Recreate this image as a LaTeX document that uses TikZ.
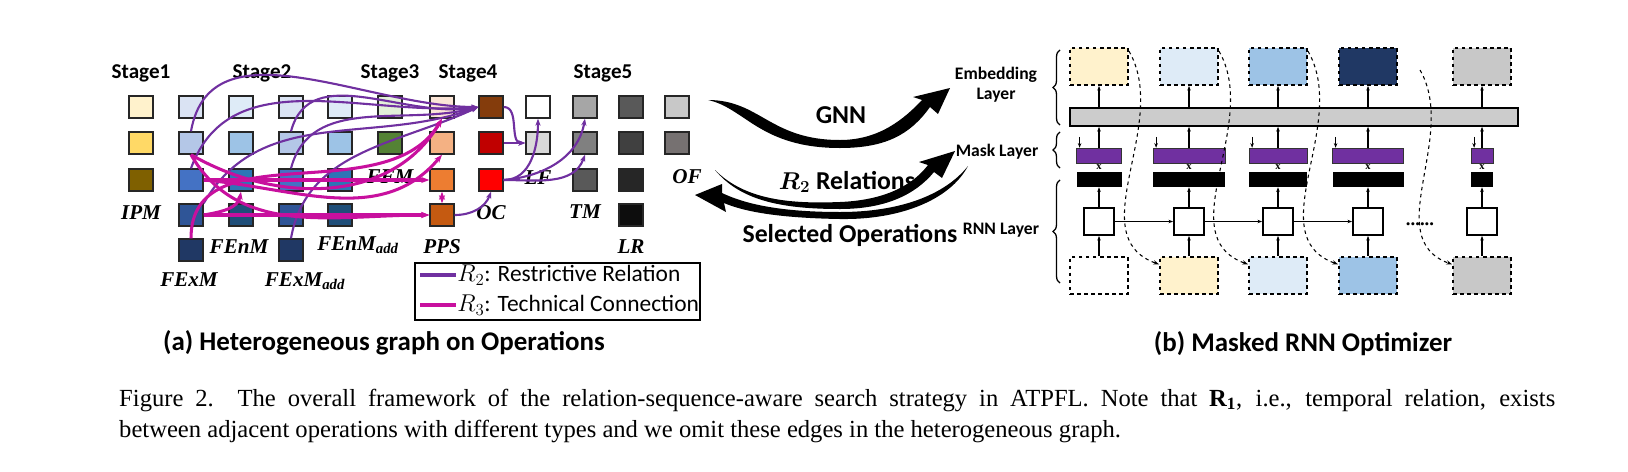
\documentclass[tikz,border=0pt]{standalone}
\usepackage{amsmath}
\usepackage{fontspec}
\setmainfont{Liberation Serif}
\newfontfamily\calib{Carlito}
\usetikzlibrary{arrows.meta,decorations.pathreplacing}
\definecolor{pur}{HTML}{7030A0}
\definecolor{mag}{HTML}{C8109E}
\begin{document}
\begin{tikzpicture}[x=0.03cm,y=-0.03cm,
  sq/.style={draw=black!85,line width=1.2pt,minimum width=0.72cm,minimum height=0.66cm,inner sep=0pt},
  stage/.style={font=\calib\bfseries\fontsize{18}{18}\selectfont},
  op/.style={font=\bfseries\itshape\fontsize{18}{18}\selectfont},
  rr/.style={pur,line width=1.8pt,-{Stealth[length=6pt]}},
  tc/.style={mag,line width=2.6pt,-{Stealth[length=7pt]}},
  emb/.style={draw,dashed,line width=1.6pt,minimum width=1.74cm,minimum height=1.11cm,inner sep=0pt},
  up/.style={-{Stealth[length=4pt]},line width=0.9pt},
  lab/.style={font=\calib\bfseries\fontsize{15}{17}\selectfont,align=center},
  big/.style={font=\calib\bfseries\fontsize{22}{22}\selectfont}]
\useasboundingbox (0,0) rectangle (1628,471);
% ---------- grid of operations
\foreach \c/\x/\cols in {
 1/141/{FFF2CC,FFD966,7F6000},
 2/191/{DAE3F3,B4C7E7,4472C4,2F5597,203864},
 3/241/{DEEBF7,9DC3E6,2E75B6,1F4E79},
 4/291/{DAE3F3,B4C7E7,4472C4,2F5597,203864},
 5/340/{DEEBF7,9DC3E6,2E75B6,1F4E79},
 6/390/{E2F0D9,548235},
 7/442/{FBE5D6,F4B183,ED7D31,C55A11},
 8/491/{843C0C,C00000,FF0000},
 9/538/{FFFFFF,D9D9D9},
 10/585/{A6A6A6,808080,595959},
 11/631/{595959,404040,262626,0D0D0D},
 12/677/{C8C8C8,767171}}{
  \foreach \col [count=\r] in \cols {
    \definecolor{tmp}{HTML}{\col}
    \pgfmathsetmacro{\y}{{107,143,180,215,250}[\r-1]}
    \node[sq,fill=tmp] (c\c r\r) at (\x,\y) {};
  }
}
\foreach \t/\x in {Stage1/141,Stage2/262,Stage3/390,Stage4/468,Stage5/603}
  \node[stage] (s\t) at (\x,73) {\t};
\node[op] (ipm) at (141,213) {IPM};
\node[op] (fexm) at (189,280) {FExM};
\node[op] (fenm) at (239,247) {FEnM};
\node[op] (fexma) at (305,281) {FExM\textsubscript{add}};
\node[op] (fenma) at (358,245) {FEnM\textsubscript{add}};
\node[op] (ffm) at (390,177) {FFM};
\node[op] (pps) at (442,247) {PPS};
\node[op] (oc) at (491,213) {OC};
\node[op] (lf) at (538,178) {LF};
\node[op] (tm) at (585,212) {TM};
\node[op] (lr) at (631,247) {LR};
\node[op] (of) at (687,177) {OF};
% ---------- R2 restrictive relations
\draw[rr] (c2r2.north) to[out=80,in=180] (c8r1.west);
\draw[rr] (c2r3.north) to[out=70,in=185] (c8r1.west);
\draw[rr] (c4r2.north) to[out=75,in=190] (c8r1.west);
\draw[rr] (c4r3.north) to[out=75,in=195] (c8r1.west);
\draw[rr] (c2r4.north east) to[out=60,in=200] (c8r1.west);
\draw[rr] (c4r5.north) to[out=80,in=205] (c8r1.west);
\draw[rr] (c8r1.east) to[out=0,in=180] (c9r2.west);
\draw[rr] (c8r2.east) -- (c9r2.west);
\draw[rr] (c8r3.east) to[out=0,in=-90] (c9r1.south);
\draw[rr] (c8r3.east) to[out=5,in=-100] (c10r1.south);
\draw[rr] (c8r3.east) to[out=0,in=-110] (c10r2.south);
\draw[rr] (c7r4.east) to[out=0,in=-110] (c8r3.south);
% ---------- R3 technical connections
\draw[tc] (c2r5.north) to[out=90,in=-120] (c7r1.south);
\draw[tc] (c2r3.east) to[out=-5,in=-130] (c7r2.south);
\draw[tc] (c2r3.east) -- (c7r3.west);
\draw[tc] (c2r2.south) to[out=-60,in=180] (c7r4.west);
\draw[tc] (c2r4.east) -- (c7r4.west);
\draw[tc] (c2r4.east) to[out=10,in=-100] (c3r3.south);
\draw[tc,{Stealth[length=7pt]}-{Stealth[length=7pt]}] (c7r3.south) -- (c7r4.north);
\draw[tc] (c2r2.south) to[out=-30,in=-120] (c7r1.south);
% ---------- legend
\node[draw,line width=1pt,minimum width=8.55cm,minimum height=1.71cm] (leg) at (557.5,291.5) {};
\draw[pur,line width=2.6pt] (420,275) coordinate (l1) -- (456,275) coordinate (l2);
\draw[mag,line width=2.6pt] (420,305) coordinate (l3) -- (456,305) coordinate (l4);
\node[anchor=west,inner sep=1pt,font=\calib\fontsize{20}{20}\selectfont] (t1) at (l2) {$R_2$: Restrictive Relation};
\node[anchor=west,inner sep=1pt,font=\calib\fontsize{20}{20}\selectfont] (t2) at (l4) {$R_3$: Technical Connection};
% ---------- GNN arrows
\fill (708,100) .. controls (760,100) and (770,140) .. (840,140) .. controls (880,140) and (905,118) .. (922,100)
  -- (913,97) -- (950,88) -- (938,114) -- (930,107) .. controls (910,135) and (885,148) .. (840,148)
  .. controls (760,148) and (745,108) .. (708,100) -- cycle;
\fill (715,170) .. controls (745,200) and (790,204) .. (840,202) .. controls (890,200) and (915,182) .. (928,165)
  -- (919,162) -- (955,151) -- (942,178) -- (934,172) .. controls (915,195) and (885,209) .. (840,209)
  .. controls (780,209) and (740,200) .. (715,170) -- cycle;
\fill (968,166) .. controls (950,200) and (900,220) .. (840,219) .. controls (780,218) and (745,212) .. (724,203)
  -- (726,212) -- (695,195) -- (722,184) -- (722,193) .. controls (745,204) and (780,212) .. (840,212)
  .. controls (900,212) and (945,195) .. (968,166) -- cycle;
\node[big] (gnn) at (841,115) {GNN};
\node[big] (r2r) at (847,182) {$\boldsymbol{R_2}$ Relations};
\node[big] (sel) at (850,235) {Selected Operations};
% ---------- masked RNN optimizer
\node[draw,fill=black!20,line width=1.4pt,minimum width=13.44cm,minimum height=0.54cm,inner sep=0pt] (bar) at (1294,117) {};
\foreach \i/\x/\w/\ct/\cb in {1/1099/1.35/FFF2CC/FFFFFF, 2/1189/2.16/DEEBF7/FFF2CC, 3/1278/1.74/9DC3E6/DEEBF7,
  4/1368/2.13/203864/9DC3E6, 5/1482/0.66/C8C8C8/C8C8C8}{
  \definecolor{ct\i}{HTML}{\ct}\definecolor{cb\i}{HTML}{\cb}
  \node[emb,fill=ct\i] (e\i) at (\x,66.5) {};
  \node[emb,fill=cb\i] (b\i) at (\x,275.5) {};
  \node[draw=black!80,fill=pur,minimum width=\w cm,minimum height=0.45cm,inner sep=0pt] (m\i) at (\x,155.5) {};
  \node[fill=black,minimum width=\w cm,minimum height=0.45cm,inner sep=0pt] (k\i) at (\x,179.5) {};
  \node[draw,line width=1.6pt,fill=white,minimum width=0.9cm,minimum height=0.81cm,inner sep=0pt] (h\i) at (\x,221.5) {};
  \draw[up] (b\i.north) -- (h\i.south);
  \draw[up] (h\i.north) -- (k\i.south -| h\i);
  \draw[up] (m\i.north -| h\i) -- (bar.south -| h\i);
  \draw[up] (bar.north -| h\i) -- (e\i.south);
  \node[font=\bfseries\fontsize{9}{9}\selectfont,inner sep=0pt] (x\i) at (\x,167) {x};
  \coordinate (d\i) at ([xshift=0.1cm,yshift=0.33cm]m\i.north west);
  \draw[up] (d\i) -- ([xshift=0.1cm]m\i.north west);
}
\draw[up] (h1) -- (h2);
\draw[up] (h2) -- (h3);
\draw[up] (h3) -- (h4);
\node[font=\bfseries\fontsize{16}{16}\selectfont] (dots) at (1420,224) {......};
\foreach \a/\b in {e1/b2,e2/b3,e3/b4}
  \draw[dashed,line width=0.9pt,-{Stealth[length=5pt]}] ([yshift=-0.12cm]\a.north east) to[out=-60,in=160] ([yshift=-0.25cm]\b.north west);
\coordinate (e4r) at (1420,70);
\draw[dashed,line width=0.9pt,-{Stealth[length=5pt]}] (e4r) to[out=-60,in=160] ([yshift=-0.25cm]b5.north west);
\draw[decorate,decoration={brace,amplitude=6pt},line width=1.1pt] (1060,125) -- (1060,50);
\draw[decorate,decoration={brace,amplitude=6pt},line width=1.1pt] (1060,168) -- (1060,132);
\draw[decorate,decoration={brace,amplitude=6pt},line width=1.1pt] (1060,283) -- (1060,180);
\node[lab] (le) at (996,85) {Embedding\\Layer};
\node[lab] (lm) at (997,152) {Mask Layer};
\node[lab] (lrnn) at (1001,230) {RNN Layer};
% ---------- captions
\node[font=\calib\bfseries\fontsize{23}{23}\selectfont] (capa) at (384,343) {(a) Heterogeneous graph on Operations};
\node[font=\calib\bfseries\fontsize{23}{23}\selectfont] (capb) at (1303,344) {(b) Masked RNN Optimizer};
\node[anchor=west,inner sep=0pt,font=\fontsize{21}{21}\selectfont] (f1) at (119,400) {\makebox[43.08cm][s]{Figure 2.\ \ The overall framework of the relation-sequence-aware search strategy in ATPFL. Note that $\mathbf{R_1}$, i.e., temporal relation, exists}};
\node[anchor=west,inner sep=0pt,font=\fontsize{21}{21}\selectfont] (f2) at (119,431) {between adjacent operations with different types and we omit these edges in the heterogeneous graph.};
\end{tikzpicture}
\end{document}
